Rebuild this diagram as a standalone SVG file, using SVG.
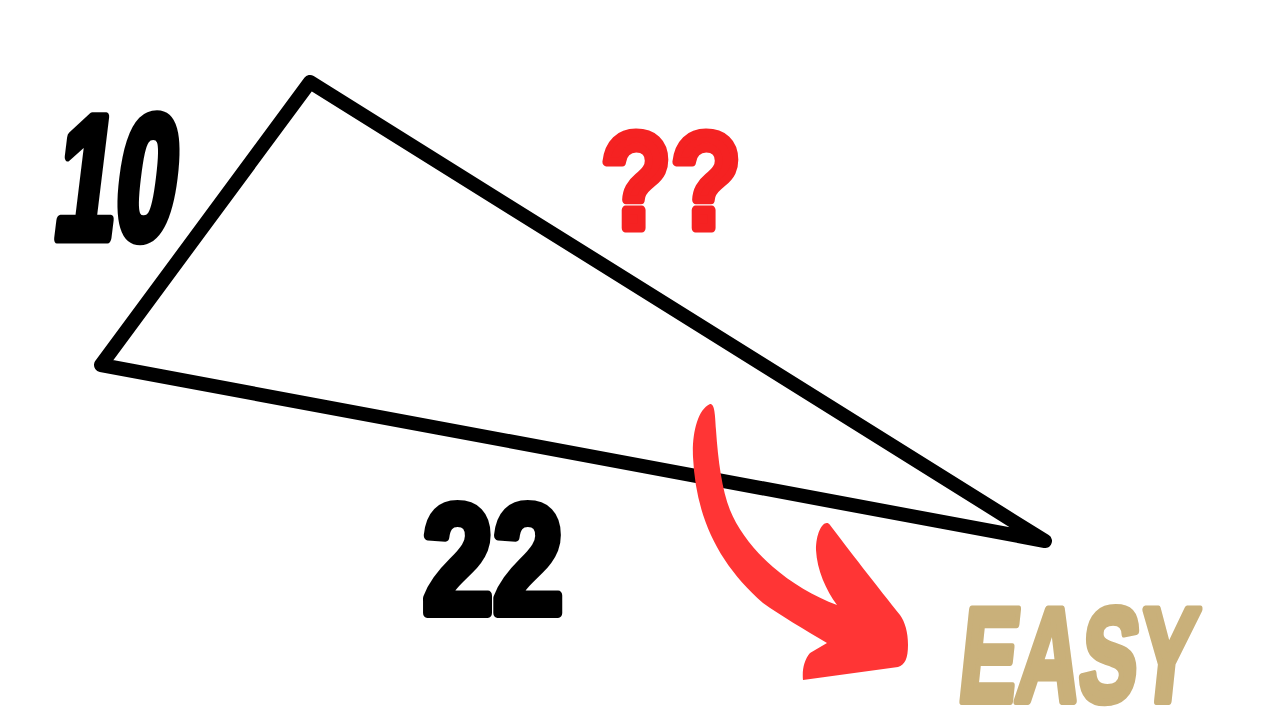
<svg xmlns="http://www.w3.org/2000/svg" width="1280" height="720" viewBox="0 0 1280 720">
<style>
.lbl{font-family:"Liberation Sans","Arial",sans-serif;font-weight:bold;text-anchor:middle;stroke-linejoin:round}
.edge{fill:none;stroke:#000;stroke-width:14;stroke-linejoin:round;stroke-linecap:round}
</style>
<rect width="1280" height="720" fill="#fff"/>
<g id="connectors">
<path class="edge" d="M310,82 L1045,541 L101,365 Z"/>
</g>
<g id="label-10"><text class="lbl" font-size="175" fill="#000" stroke="#000" stroke-width="11" transform="translate(111,238) skewX(-7) scale(0.62,1)">10</text></g>
<g id="label-22"><text class="lbl" font-size="154" fill="#000" stroke="#000" stroke-width="10" transform="translate(493,613) scale(0.82,1)">22</text></g>
<g id="label-qq"><text class="lbl" font-size="135" fill="#F52222" stroke="#F52222" stroke-width="9" transform="translate(671,228) scale(0.85,1)">??</text></g>
<g id="arrow"><path fill="#FF3535" d="M710,404 C697,410 692,435 693,457 C696,520 720,565 763,603 C780,615 805,630 827,643 L810,653 C804,660 802,670 803,680 L898,667 C905,665 908,658 908,645 C908,632 905,622 900,615 C880,590 845,545 830,525 C825,518 816,530 816,550 C817,570 826,590 837,605 C815,597 790,582 773,567 C755,552 738,530 730,510 C722,490 718,460 716,430 C715,410 714,404 710,404 Z"/></g>
<g id="label-easy"><text class="lbl" font-size="133" fill="#C9B07A" stroke="#C9B07A" stroke-width="8" transform="translate(1074,701) skewX(-6) scale(0.65,1)">EASY</text></g>
</svg>
